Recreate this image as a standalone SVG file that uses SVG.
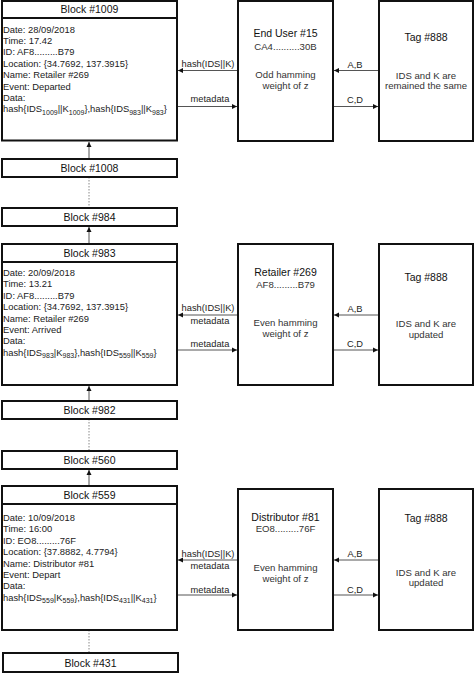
<svg xmlns="http://www.w3.org/2000/svg" width="474" height="673" viewBox="0 0 474 673">
<defs>
<marker id="ah" markerWidth="6" markerHeight="6" refX="5" refY="3" orient="auto" markerUnits="userSpaceOnUse">
<path d="M0,0.5 L5,3 L0,5.5 Z" fill="#111"/>
</marker>
<style>
.box{fill:#fff;stroke:#111;stroke-width:2}
.t{font-family:"Liberation Sans",Arial,sans-serif;fill:#111}
.h{font-size:10.5px;text-anchor:middle}
.b{font-size:9.4px;fill:#222}
.n{font-size:10.5px;text-anchor:middle}
.s{font-size:9.6px;text-anchor:middle;fill:#333}
.l{font-size:9.3px;text-anchor:middle;fill:#222}
.sub{font-size:7px}
.arr{stroke:#555;stroke-width:1;fill:none;marker-end:url(#ah)}
.dot{stroke:#888;stroke-width:1;stroke-dasharray:1.5,1.5;fill:none}
</style>
</defs>
<rect width="474" height="673" fill="#fff"/>

<g id="connectors">
<line class="arr" x1="89" y1="159" x2="89" y2="142"/>
<line class="dot" x1="89" y1="177" x2="89" y2="208"/>
<line class="arr" x1="89" y1="244" x2="89" y2="227"/>
<line class="arr" x1="89" y1="401" x2="89" y2="386"/>
<line class="dot" x1="89" y1="419" x2="89" y2="450"/>
<line class="arr" x1="89" y1="486" x2="89" y2="470"/>
<line class="dot" x1="89" y1="630" x2="89" y2="653"/>

<line class="arr" x1="238" y1="70.5" x2="178" y2="70.5"/>
<line class="arr" x1="177" y1="106.5" x2="237" y2="106.5"/>
<line class="arr" x1="379" y1="70.5" x2="334" y2="70.5"/>
<line class="arr" x1="333" y1="106.5" x2="378" y2="106.5"/>
<text class="t l" x="208" y="67">hash(IDS||K)</text>
<text class="t l" x="210" y="102">metadata</text>
<text class="t l" x="355" y="68">A,B</text>
<text class="t l" x="355" y="102.5">C,D</text>

<line class="arr" x1="238" y1="315" x2="178" y2="315"/>
<line class="arr" x1="177" y1="350" x2="237" y2="350"/>
<line class="arr" x1="379" y1="315" x2="334" y2="315"/>
<line class="arr" x1="333" y1="350" x2="378" y2="350"/>
<text class="t l" x="208" y="311">hash(IDS||K)</text>
<text class="t l" x="210" y="323.5">metadata</text>
<text class="t l" x="210" y="346.5">metadata</text>
<text class="t l" x="355" y="312">A,B</text>
<text class="t l" x="355" y="346.5">C,D</text>

<line class="arr" x1="238" y1="560" x2="178" y2="560"/>
<line class="arr" x1="177" y1="595" x2="237" y2="595"/>
<line class="arr" x1="379" y1="560" x2="334" y2="560"/>
<line class="arr" x1="333" y1="595" x2="378" y2="595"/>
<text class="t l" x="208" y="556.5">hash(IDS||K)</text>
<text class="t l" x="210" y="568.5">metadata</text>
<text class="t l" x="210" y="592.5">metadata</text>
<text class="t l" x="355" y="557">A,B</text>
<text class="t l" x="355" y="592.5">C,D</text>
</g>

<g id="block-1009">
<rect class="box" x="2" y="1" width="175" height="17"/>
<rect class="box" x="2" y="18" width="175" height="122.5"/>
<text class="t h" x="89.5" y="13">Block #1009</text>
<text class="t b" x="3" y="32.5">Date: 28/09/2018</text>
<text class="t b" x="3" y="44">Time: 17.42</text>
<text class="t b" x="3" y="55.3">ID: AF8.........B79</text>
<text class="t b" x="3" y="66.7">Location: {34.7692, 137.3915}</text>
<text class="t b" x="3" y="78">Name: Retailer #269</text>
<text class="t b" x="3" y="89.5">Event: Departed</text>
<text class="t b" x="3" y="101">Data:</text>
<text class="t b" x="3" y="112.3">hash{IDS<tspan class="sub" dy="2.5">1009</tspan><tspan dy="-2.5">||K</tspan><tspan class="sub" dy="2.5">1009</tspan><tspan dy="-2.5">},hash{IDS</tspan><tspan class="sub" dy="2.5">983</tspan><tspan dy="-2.5">||K</tspan><tspan class="sub" dy="2.5">983</tspan><tspan dy="-2.5">}</tspan></text>
</g>

<g id="block-1008">
<rect class="box" x="2" y="159" width="175" height="18"/>
<text class="t h" x="89.5" y="172">Block #1008</text>
</g>

<g id="block-984">
<rect class="box" x="2" y="208" width="175" height="18"/>
<text class="t h" x="89.5" y="221">Block #984</text>
</g>

<g id="block-983">
<rect class="box" x="2" y="244" width="175" height="18"/>
<rect class="box" x="2" y="262" width="175" height="123"/>
<text class="t h" x="89.5" y="257">Block #983</text>
<text class="t b" x="3" y="276">Date: 20/09/2018</text>
<text class="t b" x="3" y="287.4">Time: 13.21</text>
<text class="t b" x="3" y="298.8">ID: AF8.........B79</text>
<text class="t b" x="3" y="310.2">Location: {34.7692, 137.3915}</text>
<text class="t b" x="3" y="321.6">Name: Retailer #269</text>
<text class="t b" x="3" y="333">Event: Arrived</text>
<text class="t b" x="3" y="344.4">Data:</text>
<text class="t b" x="3" y="355.8">hash{IDS<tspan class="sub" dy="2.5">983</tspan><tspan dy="-2.5">|K</tspan><tspan class="sub" dy="2.5">983</tspan><tspan dy="-2.5">},hash{IDS</tspan><tspan class="sub" dy="2.5">559</tspan><tspan dy="-2.5">||K</tspan><tspan class="sub" dy="2.5">559</tspan><tspan dy="-2.5">}</tspan></text>
</g>

<g id="block-982">
<rect class="box" x="2" y="401" width="175" height="18"/>
<text class="t h" x="89.5" y="414">Block #982</text>
</g>

<g id="block-560">
<rect class="box" x="2" y="451" width="175" height="18"/>
<text class="t h" x="89.5" y="464">Block #560</text>
</g>

<g id="block-559">
<rect class="box" x="2" y="486" width="175" height="18"/>
<rect class="box" x="2" y="504" width="175" height="126"/>
<text class="t h" x="89.5" y="499">Block #559</text>
<text class="t b" x="3" y="521">Date: 10/09/2018</text>
<text class="t b" x="3" y="532.4">Time: 16:00</text>
<text class="t b" x="3" y="543.8">ID: EO8.........76F</text>
<text class="t b" x="3" y="555.2">Location: {37.8882, 4.7794}</text>
<text class="t b" x="3" y="566.6">Name: Distributor #81</text>
<text class="t b" x="3" y="578">Event: Depart</text>
<text class="t b" x="3" y="589.4">Data:</text>
<text class="t b" x="3" y="600.8">hash{IDS<tspan class="sub" dy="2.5">559</tspan><tspan dy="-2.5">|K</tspan><tspan class="sub" dy="2.5">559</tspan><tspan dy="-2.5">},hash{IDS</tspan><tspan class="sub" dy="2.5">431</tspan><tspan dy="-2.5">||K</tspan><tspan class="sub" dy="2.5">431</tspan><tspan dy="-2.5">}</tspan></text>
</g>

<g id="block-431">
<rect class="box" x="3" y="653" width="175" height="19"/>
<text class="t h" x="90.5" y="666.5">Block #431</text>
</g>

<g id="end-user-15">
<rect class="box" x="238" y="1" width="95" height="140"/>
<text class="t n" x="285.5" y="37">End User #15</text>
<text class="t s" x="285.5" y="49.5">CA4..........30B</text>
<text class="t s" x="285.5" y="77.5">Odd  hamming</text>
<text class="t s" x="285.5" y="89">weight of z</text>
</g>

<g id="tag-888-a">
<rect class="box" x="379" y="1" width="94" height="140"/>
<text class="t n" x="426" y="41">Tag #888</text>
<text class="t s" x="426" y="78.5">IDS and K are</text>
<text class="t s" x="426" y="89">remained the same</text>
</g>

<g id="retailer-269">
<rect class="box" x="238" y="244" width="95" height="141"/>
<text class="t n" x="285.5" y="276">Retailer #269</text>
<text class="t s" x="285.5" y="287.5">AF8.........B79</text>
<text class="t s" x="285.5" y="325.5">Even hamming</text>
<text class="t s" x="285.5" y="337">weight of z</text>
</g>

<g id="tag-888-b">
<rect class="box" x="379" y="244" width="94" height="141"/>
<text class="t n" x="426" y="281">Tag #888</text>
<text class="t s" x="426" y="326.5">IDS and K are</text>
<text class="t s" x="426" y="337.5">updated</text>
</g>

<g id="distributor-81">
<rect class="box" x="238" y="489" width="95" height="141"/>
<text class="t n" x="285.5" y="520.5">Distributor #81</text>
<text class="t s" x="285.5" y="532">EO8.........76F</text>
<text class="t s" x="285.5" y="570.5">Even hamming</text>
<text class="t s" x="285.5" y="582">weight of z</text>
</g>

<g id="tag-888-c">
<rect class="box" x="379" y="489" width="94" height="141"/>
<text class="t n" x="426" y="521.5">Tag #888</text>
<text class="t s" x="426" y="576">IDS and K are</text>
<text class="t s" x="426" y="586">updated</text>
</g>
</svg>
